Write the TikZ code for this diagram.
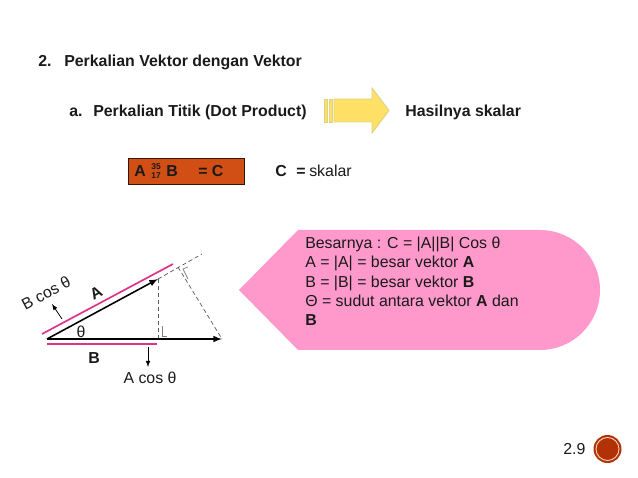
\documentclass[tikz,border=0pt]{standalone}
\usepackage{fontspec}
\setmainfont{Liberation Sans}
\definecolor{pinkline}{RGB}{222,50,140}
\definecolor{pinkfill}{RGB}{255,153,204}
\definecolor{yellowfill}{RGB}{255,224,102}
\definecolor{yellowline}{RGB}{222,210,130}
\definecolor{orangebox}{RGB}{209,78,20}
\definecolor{redball}{RGB}{178,50,8}
\definecolor{textgray}{RGB}{26,26,26}
\tikzset{
	txt/.style={anchor=base west,inner sep=0pt,text=textgray,font=\fontsize{11.3}{13}\selectfont},
	txtb/.style={txt,font=\fontsize{11.3}{13}\selectfont\bfseries},
	tiny/.style={inner sep=0pt,text=textgray,font=\fontsize{6}{6}\selectfont\bfseries},
	vec/.style={-latex,line width=1.1pt,black},
	pinkseg/.style={pinkline,line width=1.2pt},
	dashline/.style={densely dashed,gray!70!black,line width=0.5pt},
	thinarrow/.style={-latex,line width=0.5pt,black},
	yellowbar/.style={fill=yellowfill,draw=yellowline,line width=0.7pt}
}
\begin{document}
\begin{tikzpicture}[x=0.025cm,y=-0.025cm]
	\useasboundingbox (0,0) rectangle (638,478);
	% headings
	\node[txtb] (title) at (38,67) {2.};
	\node[txtb] (titlea) at (64,67) {Perkalian Vektor dengan Vektor};
	\node[txtb] (sub) at (69,117) {a.};
	\node[txtb] (suba) at (93,117) {Perkalian Titik (Dot Product)};
	\node[txtb] (result) at (405,117) {Hasilnya skalar};
	% yellow arrow
	\draw[yellowbar] (324,99) rectangle (327,122);
	\draw[yellowbar] (329,99) rectangle (332,122);
	\draw[yellowbar] (334,99) -- (372,99) -- (372,88) -- (389,110.5) -- (372,133) -- (372,122) -- (334,122) -- cycle;
	% orange box
	\draw[fill=orangebox,draw=black!75!orangebox,line width=0.7pt] (128,158) rectangle (244,184);
	\node[txtb] (boxa) at (134,177) {A};
	\node[tiny] (boxup) at (156,167) {35};
	\node[tiny] (boxdown) at (156,176) {17};
	\node[txtb] (boxb) at (166,177) {B};
	\node[txtb] (boxc) at (198,177) {= C};
	\node[txtb] (scalarc) at (275,177) {C};
	\node[txtb] (scalareq) at (296,177) {=};
	\node[txt] (scalar) at (309,177) {skalar};
	% pink callout
	\fill[pinkfill] (239,290) -- (298,230) -- (540,230) arc (90:-90:60 and -60) -- (298,350) -- cycle;
	\node[txt] (lineone) at (305,249) {Besarnya : C = |A||B| Cos θ};
	\node[txt] (linetwo) at (305,268) {A = |A| = besar vektor \textbf{A}};
	\node[txt] (linethree) at (305,288) {B = |B| = besar vektor \textbf{B}};
	\node[txt] (linefour) at (305,307) {Θ = sudut antara vektor \textbf{A} dan};
	\node[txtb] (linefive) at (305,325) {B};
	% vectors
	\coordinate (origin) at (47,339);
	\coordinate (tipa) at (158,279);
	\coordinate (tipb) at (222,339);
	\coordinate (foot) at (158,339);
	\coordinate (perp) at (178,267);
	\coordinate (far) at (202,254);
	\draw[dashline] (tipa) -- (foot);
	\draw[dashline] (tipa) -- (far);
	\draw[dashline] (perp) -- (tipb);
	\draw[vec] (origin) -- (tipb);
	\draw[vec] (origin) -- (tipa);
	\draw[pinkseg] (42,334) -- (173,264);
	\draw[pinkseg] (47,344) -- (157,344);
	\draw[gray,line width=0.5pt] (162,326) -- (162,336) -- (167,336);
	\draw[gray,line width=0.5pt] (188,267) -- (183,269) -- (188,279);
	\coordinate (bstart) at (62,319);
	\coordinate (bend) at (52,304);
	\coordinate (astart) at (148,347);
	\coordinate (aend) at (148,367);
	\draw[thinarrow] (bstart) -- (bend);
	\draw[thinarrow] (astart) -- (aend);
	\node[txt,anchor=center,rotate=28] (bcos) at (46,293) {B cos θ};
	\node[txtb,anchor=center,rotate=28] (lettera) at (96,293) {A};
	\node[txt,anchor=center] (theta) at (81,332) {θ};
	\node[txtb,anchor=center] (letterb) at (94,358) {B};
	\node[txt,anchor=center] (acos) at (150,378) {A cos θ};
	% page number
	\node[txt] (page) at (563,454) {2.9};
	\fill[redball] (607.5,449) circle (14);
	\draw[white!75!orange,line width=0.6pt] (607.5,449) circle (11.5);
\end{tikzpicture}
\end{document}
